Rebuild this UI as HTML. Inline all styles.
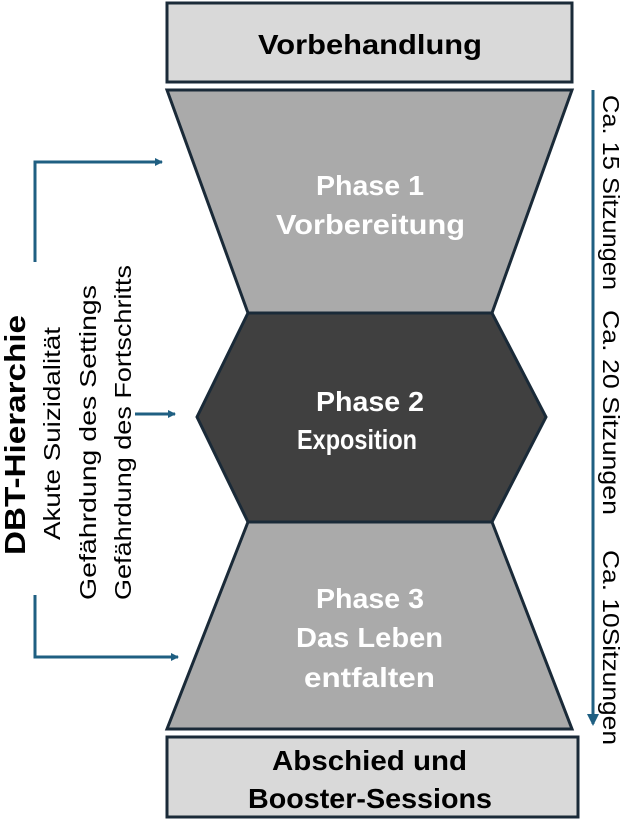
<!DOCTYPE html>
<html><head><meta charset="utf-8"><style>
html,body{margin:0;padding:0;background:#fff;}
svg{display:block;font-family:"Liberation Sans",sans-serif;}
</style></head><body>
<svg width="638" height="820" viewBox="0 0 638 820" xmlns="http://www.w3.org/2000/svg">
<defs><marker id="ah" markerWidth="8" markerHeight="8" refX="7" refY="4" orient="auto" markerUnits="userSpaceOnUse"><path d="M0,0 L8,4 L0,8 Z" fill="#1f5f82"/></marker>
<marker id="ah2" markerWidth="12" markerHeight="12" refX="10" refY="6" orient="auto" markerUnits="userSpaceOnUse"><path d="M0,0 L12,6 L0,12 Z" fill="#1f5f82"/></marker></defs>
<rect x="167" y="3" width="405" height="79" fill="#d9d9d9" stroke="#1a2a38" stroke-width="3"/>
<text x="258" y="54" font-size="28" font-weight="bold" fill="#000" textLength="224" lengthAdjust="spacingAndGlyphs">Vorbehandlung</text>
<polygon points="167,90 572,90 492,313 248,313" fill="#aaaaaa" stroke="#1a2a38" stroke-width="3"/>
<polygon points="248,313 492,313 546,417 492,522 248,522 197,417" fill="#404040" stroke="#1a2a38" stroke-width="3"/>
<polygon points="248,522 492,522 572,729 167,729" fill="#aaaaaa" stroke="#1a2a38" stroke-width="3"/>
<g font-size="28" font-weight="bold" fill="#fff" lengthAdjust="spacingAndGlyphs">
<text x="316" y="195" textLength="108" lengthAdjust="spacingAndGlyphs">Phase 1</text>
<text x="276" y="234" textLength="189" lengthAdjust="spacingAndGlyphs">Vorbereitung</text>
<text x="316" y="411" textLength="108" lengthAdjust="spacingAndGlyphs">Phase 2</text>
<text x="297" y="449" textLength="120" lengthAdjust="spacingAndGlyphs">Exposition</text>
<text x="316" y="608" textLength="108" lengthAdjust="spacingAndGlyphs">Phase 3</text>
<text x="296" y="647" textLength="147" lengthAdjust="spacingAndGlyphs">Das Leben</text>
<text x="304" y="687" textLength="131" lengthAdjust="spacingAndGlyphs">entfalten</text>
</g>
<rect x="167" y="737" width="411" height="80" fill="#d9d9d9" stroke="#1a2a38" stroke-width="3"/>
<g font-size="28" font-weight="bold" fill="#000">
<text x="272" y="770" textLength="195" lengthAdjust="spacingAndGlyphs">Abschied und</text>
<text x="248" y="808" textLength="244" lengthAdjust="spacingAndGlyphs">Booster-Sessions</text></g>
<g stroke="#1f5f82" stroke-width="3" fill="none">
<polyline points="35,262 35,162 162,162" marker-end="url(#ah)"/>
<line x1="135" y1="414" x2="175" y2="414" marker-end="url(#ah)"/>
<polyline points="35,595 35,657 178,657" marker-end="url(#ah)"/>
<line x1="593" y1="90" x2="593" y2="724" marker-end="url(#ah2)"/>
</g>
<g transform="translate(0,0) rotate(-90)">
<text x="-555" y="25" font-size="29" font-weight="bold" textLength="240" lengthAdjust="spacingAndGlyphs">DBT-Hierarchie</text>
<text x="-540" y="60" font-size="23" textLength="213" lengthAdjust="spacingAndGlyphs">Akute Suizidalität</text>
<text x="-600" y="96" font-size="23" textLength="315" lengthAdjust="spacingAndGlyphs">Gefährdung des Settings</text>
<text x="-600" y="131" font-size="23" textLength="335" lengthAdjust="spacingAndGlyphs">Gefährdung des Fortschritts</text>
</g>
<g transform="translate(603,0) rotate(90)" font-size="23">
<text x="95" y="0" textLength="195" lengthAdjust="spacingAndGlyphs">Ca. 15 Sitzungen</text>
<text x="310" y="0" textLength="205" lengthAdjust="spacingAndGlyphs">Ca. 20 Sitzungen</text>
<text x="550" y="0" textLength="195" lengthAdjust="spacingAndGlyphs">Ca. 10Sitzungen</text>
</g>
</svg>
</body></html>
